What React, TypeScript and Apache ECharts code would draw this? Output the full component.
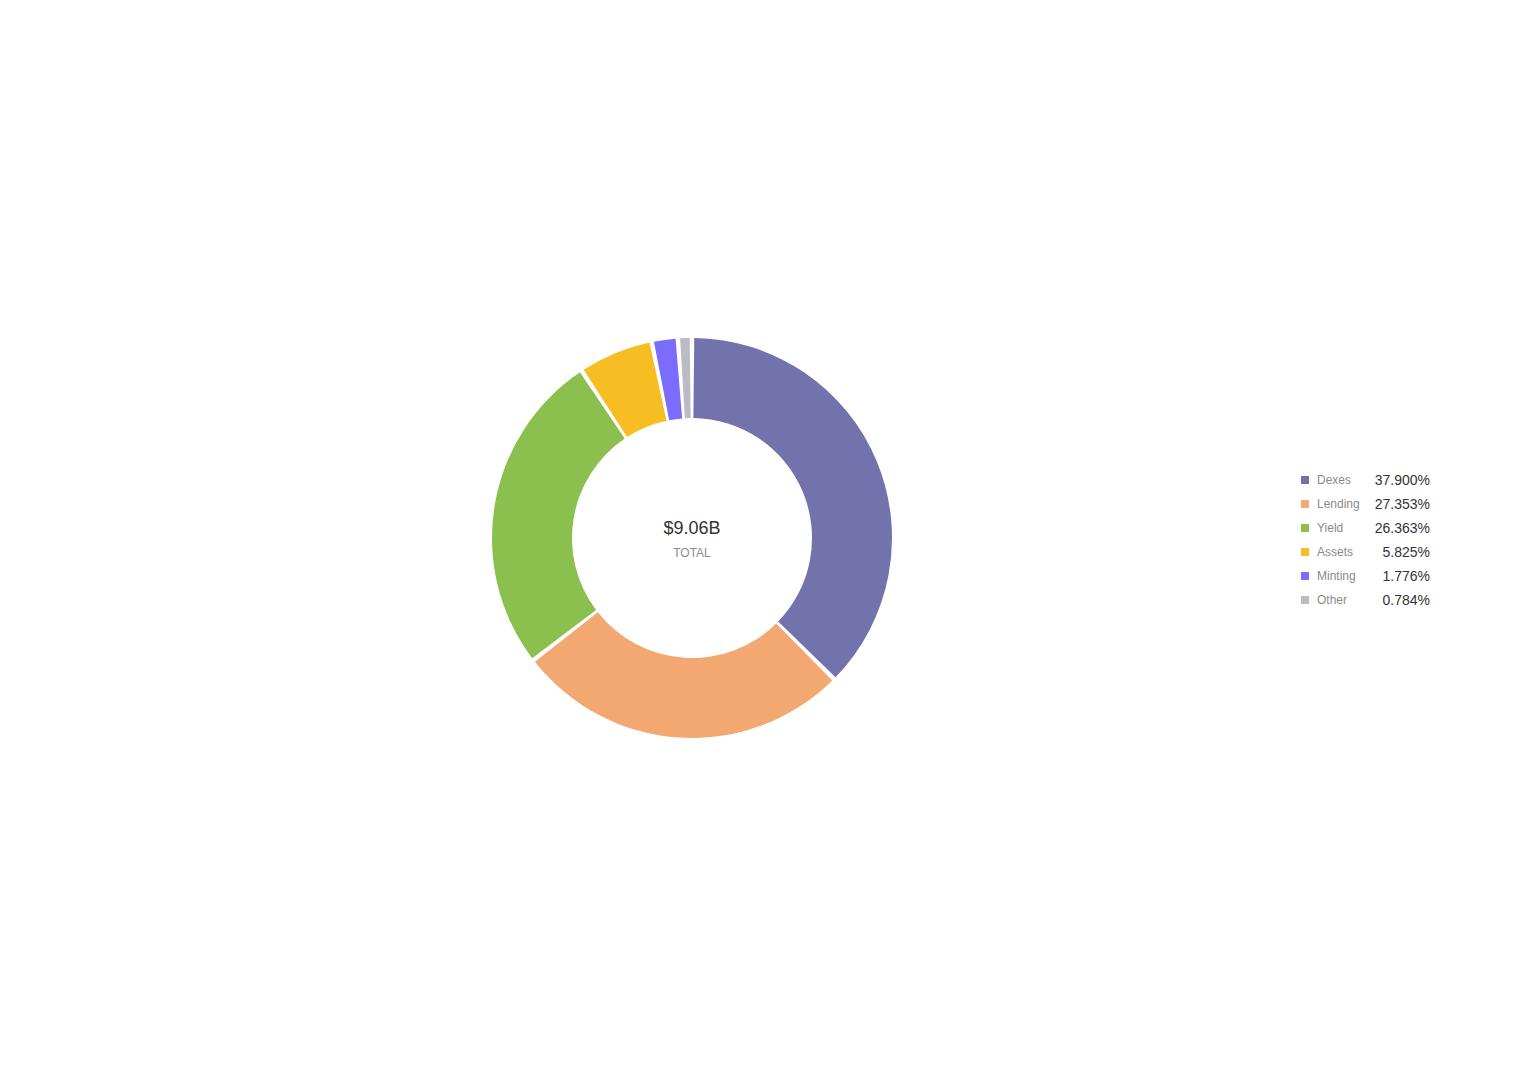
import * as echarts from 'echarts';
import { useEffect, useRef } from 'react';

const categories = ['Dexes', 'Lending', 'Yield', 'Assets', 'Minting', 'Other'];
const shares = [37.9, 27.353, 26.363, 5.825, 1.776, 0.784];
const colors = ['#7272ad', '#f2a870', '#8bc04e', '#f6be22', '#7b6cfb', '#babbc4'];
const totalLabel = '$9.06B';
const totalCaption = 'TOTAL';

// blank wedge between slices, as a share of the ring (layout only)
const GAP = 0.37;

function App() {
  const chartRef = useRef(null);

  useEffect(() => {
    document.body.style.margin = '0';
    const myChart = echarts.init(chartRef.current, null, { renderer: 'svg' });

    const gapDeg = (GAP * 360) / (100 + GAP * categories.length);
    const pieData: any[] = [];
    categories.forEach((name, i) => {
      pieData.push({ name, value: shares[i], itemStyle: { color: colors[i] } });
      pieData.push({
        name: `gap${i}`,
        value: GAP,
        itemStyle: { color: 'rgba(0,0,0,0)' },
      });
    });

    const option = {
      animation: false,
      color: colors,
      legend: {
        orient: 'vertical',
        left: 1296,
        top: 'middle',
        itemWidth: 8,
        itemHeight: 8,
        itemGap: 10,
        icon: 'rect',
        data: categories,
        formatter: (name: string) => {
          const i = categories.indexOf(name);
          return `{name|${name}}{value|${shares[i].toFixed(3)}%}`;
        },
        textStyle: {
          fontFamily: 'Liberation Sans, Arial, sans-serif',
          rich: {
            name: { fontSize: 12, color: '#8a8a8a', width: 58, height: 14, padding: [0, 0, 0, 3] },
            value: { fontSize: 14, color: '#333333', width: 55, align: 'right', height: 14 },
          },
        },
      },
      graphic: [
        {
          type: 'text',
          x: 692,
          y: 528,
          style: {
            text: totalLabel,
            fontSize: 18,
            fill: '#333333',
            fontFamily: 'Liberation Sans, Arial, sans-serif',
            align: 'center',
            verticalAlign: 'middle',
          },
        },
        {
          type: 'text',
          x: 692,
          y: 553,
          style: {
            text: totalCaption,
            fontSize: 12,
            fill: '#8a8a8a',
            fontFamily: 'Liberation Sans, Arial, sans-serif',
            align: 'center',
            verticalAlign: 'middle',
          },
        },
      ],
      series: [
        {
          name: 'TVL',
          type: 'pie',
          center: [692, 538],
          radius: [120, 200],
          startAngle: 90 - gapDeg / 2,
          clockwise: true,
          avoidLabelOverlap: false,
          itemStyle: { borderWidth: 0 },
          label: { show: false },
          labelLine: { show: false },
          emphasis: { disabled: true },
          data: pieData,
        },
      ],
    };

    myChart.setOption(option);

    return () => {
      myChart.dispose();
    };
  }, []);

  return <div ref={chartRef} style={{ width: '1536px', height: '1080px' }}></div>;
}

export default App;
